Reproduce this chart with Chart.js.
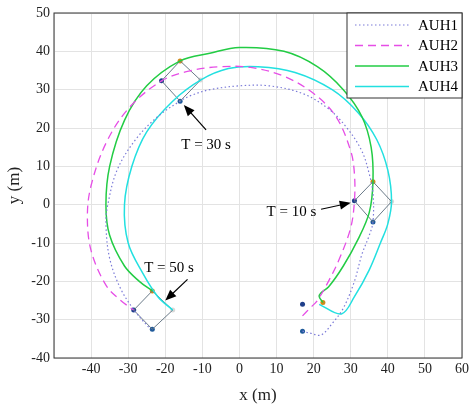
<!DOCTYPE html><html><head><meta charset="utf-8">
<script src="https://cdn.jsdelivr.net/npm/chart.js@4"></script>
<style>html,body{margin:0;padding:0;background:#fff}#w{width:474px;height:410px}</style></head><body><div id="w"><canvas id="c"></canvas></div>
<script>
const labels=['AUH1','AUH2','AUH3','AUH4'];
const auh1=[[17,-33],[19,-33.5],[22,-34],[25,-31],[28,-27],[31,-20],[33,-13],[35,-8],[36,-4.5],[36,3],[35,8],[33,14],[29,20],[24,25],[17,29],[8,31],[0,31],[-8,30],[-13,28.5],[-16,27],[-22,23],[-28,17],[-33,9],[-35.5,0],[-36,-5],[-35,-14],[-32,-22],[-28,-28],[-24,-32.5]];
const auh2=[[17,-29],[19,-27],[21,-25],[24,-20],[27,-14],[30,-6],[31,1],[31,8],[30,14],[26,23],[20,29],[12,33.5],[3,35.8],[-5,36],[-13,35],[-21,32.3],[-30,25],[-36,16],[-40,5],[-41,-3],[-40,-12],[-36,-21],[-32,-25],[-28.5,-27.5]];
const auh3=[[22.5,-25.5],[21.5,-24],[22,-23],[24,-21.5],[28,-16],[32,-9],[35,-2],[36,6],[35.5,15],[33,23],[28,30],[21,36],[12,40],[0,41],[-8,39.5],[-16,37.5],[-25,31],[-31,22],[-35,10],[-36,0],[-35,-8],[-31,-16],[-27,-20],[-23.5,-22.5]];
const auh4=[[21.5,-26],[27.5,-28.5],[31,-24],[35,-17],[38,-10],[40,-5],[41,0.8],[40,9],[37,17],[32,24],[25,30],[15,34.5],[5,36],[-3,35.5],[-10.5,32.5],[-18,27],[-25,19],[-29,10],[-31,0],[-30,-10],[-26,-18],[-22,-24],[-18,-27.5]];
const formT10=[[36,6],[41,0.8],[36,-4.5],[31,1]];
const formT30=[[-16,37.5],[-10.5,32.5],[-16,27],[-21,32.3]];
const formT50=[[-23.5,-22.5],[-18,-27.5],[-23.5,-32.5],[-28.5,-27.5]];
const starts=[[17,-33],[17,-26],[22.5,-25.5]];
const xTicks=[-40,-30,-20,-10,0,10,20,30,40,50,60];
const yTicks=[-40,-30,-20,-10,0,10,20,30,40,50];
const notes=[{t:'T = 10 s',p:[14,-2],a:[[22,-1.2],[30,0.5]]},{t:'T = 30 s',p:[-9,15.5],a:[[-9,19.5],[-15,26]]},{t:'T = 50 s',p:[-19,-16.5],a:[[-14,-19.5],[-20,-25]]}];
const P=a=>a.map(([x,y])=>({x,y}));
const colors=['#7b7bd8','#e64ee6','#22cc44','#22e0e0'];
const ds=[
 {label:'AUH1',data:P(auh1),borderColor:colors[0],borderDash:[1.5,2.5],borderWidth:1.2},
 {label:'AUH2',data:P(auh2),borderColor:colors[1],borderDash:[8,5],borderWidth:1.3},
 {label:'AUH3',data:P(auh3),borderColor:colors[2],borderWidth:1.5},
 {label:'AUH4',data:P(auh4),borderColor:colors[3],borderWidth:1.5}
].map(d=>Object.assign(d,{showLine:true,pointRadius:0,tension:0.35,fill:false}));
const sqColor='#6a7a88';
[formT10,formT30,formT50].forEach(f=>{ds.push({label:'_sq',data:P([...f,f[0]]),showLine:true,borderColor:sqColor,borderWidth:1,pointRadius:0,tension:0});
 ds.push({label:'_pt',data:P(f),showLine:false,pointRadius:2.5,pointBackgroundColor:['#d08a1a','#d8d8d8','#1f5a9a','#1f3f8a'],pointBorderWidth:0});});
ds.push({label:'_pt',data:P(starts),showLine:false,pointRadius:2.5,pointBackgroundColor:['#1f5a9a','#1f3f8a','#d08a1a'],pointBorderWidth:0});
const font='"Liberation Serif", "DejaVu Serif", serif';
const deco={id:'deco',afterDatasetsDraw(c){const g=c.ctx,x=c.scales.x,y=c.scales.y,a=c.chartArea;
 g.save();g.strokeStyle='#333';g.lineWidth=1;g.strokeRect(a.left,a.top,a.right-a.left,a.bottom-a.top);
 g.fillStyle='#000';g.font='15px '+font;g.textAlign='center';g.textBaseline='middle';
 notes.forEach(n=>{g.fillText(n.t,x.getPixelForValue(n.p[0]),y.getPixelForValue(n.p[1]));
  const x0=x.getPixelForValue(n.a[0][0]),y0=y.getPixelForValue(n.a[0][1]),x1=x.getPixelForValue(n.a[1][0]),y1=y.getPixelForValue(n.a[1][1]);
  const ang=Math.atan2(y1-y0,x1-x0);g.strokeStyle='#000';g.lineWidth=1.2;g.beginPath();g.moveTo(x0,y0);g.lineTo(x1-8*Math.cos(ang),y1-8*Math.sin(ang));g.stroke();
  g.beginPath();g.moveTo(x1,y1);g.lineTo(x1-11*Math.cos(ang)+4.5*Math.sin(ang),y1-11*Math.sin(ang)-4.5*Math.cos(ang));g.lineTo(x1-11*Math.cos(ang)-4.5*Math.sin(ang),y1-11*Math.sin(ang)+4.5*Math.cos(ang));g.closePath();g.fill();});
 const lx=a.right-115,ly=a.top,lw=115,lh=85;g.fillStyle='#fff';g.fillRect(lx,ly,lw,lh);g.strokeStyle='#333';g.lineWidth=1;g.strokeRect(lx,ly,lw,lh);
 g.textAlign='right';g.font='15px '+font;
 ds.slice(0,4).forEach((d,i)=>{const yy=ly+12+i*20.5;g.strokeStyle=d.borderColor;g.lineWidth=d.borderWidth;g.setLineDash(d.borderDash||[]);g.beginPath();g.moveTo(lx+8,yy);g.lineTo(lx+62,yy);g.stroke();g.setLineDash([]);g.fillStyle='#000';g.fillText(d.label,lx+lw-4,yy+1);});
 g.restore();}};
new Chart(document.getElementById('c'),{type:'scatter',data:{datasets:ds},plugins:[deco],
 options:{responsive:true,maintainAspectRatio:false,animation:false,layout:{padding:{top:13,right:12,left:0,bottom:0}},
 plugins:{legend:{display:false},tooltip:{enabled:false}},
 scales:{
  x:{type:'linear',min:-50,max:60,afterBuildTicks:s=>{s.ticks=[-50,...xTicks].map(v=>({value:v}))},afterFit:s=>{s.height=52},
   ticks:{color:'#222',font:{family:font,size:14},maxRotation:0,callback:v=>v===-50?'':v},grid:{color:'#e3e3e3',drawTicks:false},border:{display:false},
   title:{display:true,text:'x (m)',color:'#222',font:{family:font,size:17},padding:{top:0}}},
  y:{type:'linear',min:-40,max:50,afterBuildTicks:s=>{s.ticks=yTicks.map(v=>({value:v}))},afterFit:s=>{s.width=54},
   ticks:{color:'#222',font:{family:font,size:14},padding:4},grid:{color:'#e3e3e3',drawTicks:false},border:{display:false},
   title:{display:true,text:'y (m)',color:'#222',font:{family:font,size:17},padding:{bottom:0}}}}}});
</script></body></html>
